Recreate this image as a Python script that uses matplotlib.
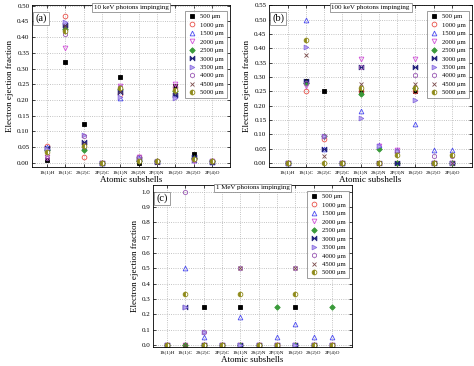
import numpy as np
import matplotlib
matplotlib.use('Agg')
import matplotlib.pyplot as plt
from matplotlib.path import Path

plt.rcParams['font.family'] = ['Liberation Serif', 'DejaVu Serif']

subshells = ['1S(1)H', '1S(1)C', '2S(2)C', '2P(2)C', '1S(1)N',
             '2S(2)N', '2P(3)N', '1S(2)O', '2S(2)O', '2P(4)O']
thickness = [500, 1000, 1500, 2000, 2500, 3000, 3500, 4000, 4500, 5000]

# rows = thickness (500 ... 5000 um), columns = subshells
frac_10kev = [
    [0.008, 0.320, 0.122, 0.000, 0.272, 0.000, 0.004, 0.245, 0.028, 0.004],
    [0.052, 0.468, 0.020, 0.000, 0.220, 0.020, 0.005, 0.240, 0.012, 0.005],
    [0.050, 0.430, 0.050, 0.000, 0.205, 0.015, 0.006, 0.220, 0.010, 0.004],
    [0.020, 0.365, 0.055, 0.000, 0.245, 0.018, 0.004, 0.250, 0.005, 0.006],
    [0.040, 0.425, 0.040, 0.000, 0.235, 0.006, 0.005, 0.230, 0.015, 0.005],
    [0.048, 0.440, 0.065, 0.000, 0.225, 0.012, 0.004, 0.215, 0.018, 0.004],
    [0.045, 0.447, 0.088, 0.000, 0.210, 0.015, 0.006, 0.205, 0.008, 0.005],
    [0.015, 0.410, 0.085, 0.000, 0.240, 0.018, 0.005, 0.240, 0.012, 0.006],
    [0.030, 0.435, 0.060, 0.000, 0.230, 0.008, 0.004, 0.225, 0.010, 0.004],
    [0.035, 0.420, 0.055, 0.000, 0.238, 0.005, 0.005, 0.232, 0.012, 0.005],
]

frac_100kev = [
    [0.0, 0.285, 0.250, 0.0, 0.250, 0.0, 0.0, 0.250, 0.0, 0.0],
    [0.0, 0.250, 0.083, 0.0, 0.250, 0.0, 0.0, 0.250, 0.0, 0.0],
    [0.0, 0.500, 0.050, 0.0, 0.182, 0.062, 0.045, 0.137, 0.045, 0.045],
    [0.0, 0.270, 0.091, 0.0, 0.363, 0.060, 0.045, 0.363, 0.0, 0.0],
    [0.0, 0.280, 0.095, 0.0, 0.240, 0.048, 0.0, 0.260, 0.0, 0.0],
    [0.0, 0.285, 0.047, 0.0, 0.333, 0.0, 0.0, 0.333, 0.0, 0.0],
    [0.0, 0.405, 0.095, 0.0, 0.155, 0.060, 0.040, 0.220, 0.0, 0.0],
    [0.0, 0.280, 0.095, 0.0, 0.333, 0.0, 0.040, 0.307, 0.025, 0.025],
    [0.0, 0.375, 0.025, 0.0, 0.275, 0.0, 0.030, 0.275, 0.0, 0.0],
    [0.0, 0.430, 0.000, 0.0, 0.260, 0.0, 0.028, 0.260, 0.0, 0.028],
]

frac_1mev = [
    [0.0, 0.0, 0.25, 0.0, 0.25, 0.0, 0.0, 0.25, 0.0, 0.0],
    [0.0, 0.0, 0.0, 0.0, 0.0, 0.0, 0.0, 0.0, 0.0, 0.0],
    [0.0, 0.5, 0.05, 0.0, 0.185, 0.0, 0.05, 0.14, 0.05, 0.05],
    [0.0, 0.0, 0.0, 0.0, 0.0, 0.0, 0.0, 0.0, 0.0, 0.0],
    [0.0, 0.0, 0.0, 0.0, 0.0, 0.0, 0.25, 0.0, 0.0, 0.25],
    [0.0, 0.25, 0.0, 0.0, 0.0, 0.0, 0.0, 0.0, 0.0, 0.0],
    [0.0, 0.25, 0.083, 0.0, 0.0, 0.0, 0.0, 0.0, 0.0, 0.0],
    [0.0, 1.0, 0.083, 0.0, 0.5, 0.0, 0.0, 0.5, 0.0, 0.0],
    [0.0, 0.0, 0.0, 0.0, 0.5, 0.0, 0.0, 0.5, 0.0, 0.0],
    [0.0, 0.333, 0.0, 0.0, 0.333, 0.0, 0.0, 0.333, 0.0, 0.0],
]

# bowtie marker like Origin's
bowtie = Path([(-1, -1), (0, 0), (-1, 1), (-1, -1), (1, -1), (0, 0), (1, 1), (1, -1)],
              [1, 2, 2, 79, 1, 2, 2, 79])

styles = [
    dict(marker='s', color='black', mfc='black'),
    dict(marker='o', color='#e8514a', mfc='none'),
    dict(marker='^', color='#4b4bf0', mfc='none'),
    dict(marker='v', color='#d050d8', mfc='none'),
    dict(marker='D', color='#3a9a3a', mfc='#3a9a3a', ms=2.8),
    dict(marker=bowtie, color='#1f1f7a', mfc='#1f1f7a'),
    dict(marker='>', color='#8a6ee0', mfc='#b9a8f0'),
    dict(marker='h', color='#9b5bb5', mfc='none'),
    dict(marker='x', color='#7a4a4a', mfc='none'),
    dict(marker='o', color='#8f8a1a', mfc='#8f8a1a', fillstyle='left', mfcalt='white'),
]

fig = plt.figure(figsize=(4.74, 3.66), dpi=100)

panels = [
    ([0.068, 0.544, 0.418, 0.443], frac_10kev, '10 keV photons impinging', '(a)',
     (-0.013, 0.503), np.arange(0, 0.51, 0.05), '%.2f', (-0.8, 10.0)),
    ([0.568, 0.544, 0.428, 0.443], frac_100kev, '100 keV photons impinging', '(b)',
     (-0.014, 0.552), np.arange(0, 0.56, 0.05), '%.2f', (-1.0, 10.1)),
    ([0.323, 0.052, 0.420, 0.443], frac_1mev, '1 MeV photons impinging', '(c)',
     (-0.013, 1.046), np.arange(0, 1.01, 0.1), '%.1f', (-0.75, 10.1)),
]

x = np.arange(len(subshells))
for rect, data, title, tag, ylim, yticks, fmt, xlim in panels:
    ax = fig.add_axes(rect)
    for i, t in enumerate(thickness):
        st = dict(styles[i])
        mk = st.pop('marker')
        col = st.pop('color')
        mfc = st.pop('mfc')
        ms = st.pop('ms', 3.4)
        kw = {}
        if 'fillstyle' in st:
            kw['fillstyle'] = st['fillstyle']
            kw['markerfacecoloralt'] = st['mfcalt']
        ax.plot(x, data[i], linestyle='none', marker=mk, color=col,
                markerfacecolor=mfc, markeredgecolor=col, markersize=ms,
                markeredgewidth=0.6, label=f'{t} \u03bcm', **kw)
    ax.set_xlim(*xlim)
    ax.set_ylim(*ylim)
    ax.set_xticks(x)
    ax.set_xticklabels(subshells, fontsize=3.8)
    ax.set_yticks(yticks)
    ax.set_yticklabels([fmt % v for v in yticks], fontsize=5)
    ax.tick_params(direction='in', length=2, width=0.5, top=True, right=True, pad=2)
    ax.grid(True, linestyle=':', color='#b0b0b0', linewidth=0.6)
    for s in ax.spines.values():
        s.set_linewidth(0.6)
    ax.set_xlabel('Atomic subshells', fontsize=6.5, labelpad=1.5)
    ax.set_ylabel('Electron ejection fraction', fontsize=6.5, labelpad=2)
    ax.text(0.5, 0.982, title, transform=ax.transAxes, ha='center', va='center',
            fontsize=5, bbox=dict(boxstyle='square,pad=0.25', fc='white', ec='#777777', lw=0.5))
    ax.text(0.045, 0.915, tag, transform=ax.transAxes, ha='center', va='center',
            fontsize=7.5, bbox=dict(boxstyle='square,pad=0.2', fc='white', ec='#777777', lw=0.5))
    leg = ax.legend(loc='upper right', fontsize=4.8, frameon=True, fancybox=False,
                    edgecolor='#555555', labelspacing=0.42, handletextpad=0.6,
                    borderpad=0.45, handlelength=1.2, bbox_to_anchor=(1.0, 0.985))
    leg.get_frame().set_linewidth(0.5)

plt.savefig('out.png', dpi=100)
